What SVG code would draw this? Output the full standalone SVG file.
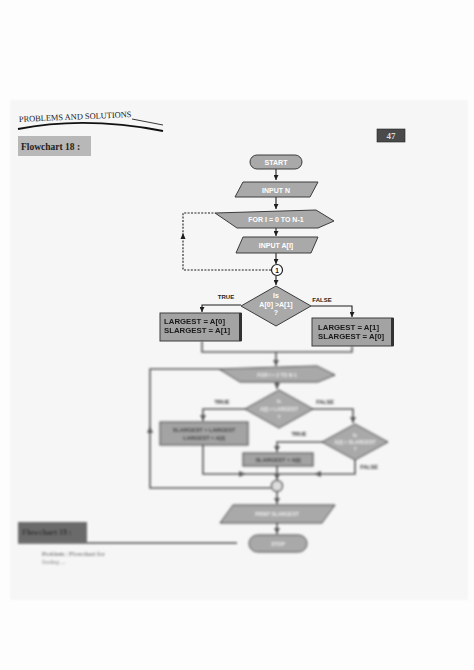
<svg xmlns="http://www.w3.org/2000/svg" width="474" height="670" viewBox="0 0 474 670">
<style>
.shape{fill:#a9a9a9;stroke:#3c3c3c;stroke-width:1}
.box{fill:#a3a3a3;stroke:#3c3c3c;stroke-width:1}
.wt{font-family:"Liberation Sans",Arial,sans-serif;font-weight:bold;font-size:7px;fill:#fff;text-anchor:middle}
.dk{font-family:"Liberation Sans",Arial,sans-serif;font-weight:bold;font-size:7.8px;fill:#1a1a1a}
.lbl{font-family:"Liberation Sans",Arial,sans-serif;font-weight:bold;font-size:6px;fill:#222;text-anchor:middle}
.sm{font-family:"Liberation Sans",Arial,sans-serif;font-weight:bold;font-size:5px;fill:#eee;text-anchor:middle}
.smd{font-family:"Liberation Sans",Arial,sans-serif;font-weight:bold;font-size:5.5px;fill:#333;text-anchor:middle}
.conn{stroke:#1e1e1e;stroke-width:1.1;fill:none}
.conn2{stroke:#5a5a5a;stroke-width:1.6;fill:none}
.dot{stroke-dasharray:2 1.4}
.serif{font-family:"Liberation Serif","Times New Roman",serif}
</style>
<defs>
<marker id="ah" viewBox="0 0 6 6" refX="6" refY="3" markerWidth="5" markerHeight="5" markerUnits="userSpaceOnUse" orient="auto"><path d="M0,0 L6,3 L0,6 z" fill="#1e1e1e"/></marker>
<marker id="ah2" viewBox="0 0 6 6" refX="6" refY="3" markerWidth="6" markerHeight="6" markerUnits="userSpaceOnUse" orient="auto"><path d="M0,0 L6,3 L0,6 z" fill="#5a5a5a"/></marker>
<filter id="blur" x="-10%" y="-10%" width="120%" height="120%"><feGaussianBlur stdDeviation="1.3"/></filter>
<filter id="blur2" x="-10%" y="-10%" width="120%" height="120%"><feGaussianBlur stdDeviation="0.6"/></filter>
</defs>

<rect x="0" y="0" width="474" height="670" fill="#fdfdfd"/>
<rect x="10" y="100" width="458" height="500" fill="#f6f6f6" filter="url(#blur)"/>

<!-- header -->
<g id="header">
<text class="serif" x="19" y="122" font-size="8.4" fill="#1a1a1a" transform="rotate(-2.5 19 122)">PROBLEMS AND SOLUTIONS</text>
<path d="M18,129 Q85,116 163,131" stroke="#111" stroke-width="1.8" fill="none"/>
<path d="M132,119 L163,125" stroke="#222" stroke-width="0.9" fill="none"/>
<rect x="18" y="136" width="73" height="20" fill="#b8b8b8"/>
<text class="serif" x="21" y="150" font-size="9.5" font-weight="bold" fill="#222">Flowchart 18 :</text>
<rect x="377" y="129" width="28" height="13" fill="#4a4a4a" stroke="#222" stroke-width="0.6"/>
<text class="serif" x="391" y="139" font-size="9" font-weight="bold" fill="#ddd" text-anchor="middle">47</text>
</g>

<!-- connectors -->
<g id="connectors">
<path class="conn" d="M276,169 V180" marker-end="url(#ah)"/>
<path class="conn" d="M276,197 V209" marker-end="url(#ah)"/>
<path class="conn" d="M276,228 V236" marker-end="url(#ah)"/>
<path class="conn" d="M276,253 V264" marker-end="url(#ah)"/>
<path class="conn dot" d="M271,270 H183 V213 H215"/>
<path d="M183,233 L180.5,239 L185.5,239 z" fill="#1e1e1e"/>
<path class="conn" d="M276,276 V285" marker-end="url(#ah)"/>
<path class="conn" d="M241,305 H202 V312" marker-end="url(#ah)"/>
<path class="conn" d="M311,306 H352 V317" marker-end="url(#ah)"/>
<text class="lbl" x="226" y="299">TRUE</text>
<text class="lbl" x="322" y="302">FALSE</text>
</g>

<!-- upper nodes -->
<g id="start"><rect class="shape" x="250" y="155" width="52" height="14" rx="7"/><text class="wt" x="276" y="164.5">START</text></g>
<g id="input_n"><polygon class="shape" points="243,182 318,182 310,197 235,197"/><text class="wt" x="276" y="192.5">INPUT N</text></g>
<g id="for1"><polygon class="shape" points="215,213 316,210 334,221 318,228 237,228"/><text class="wt" x="276" y="222">FOR I = 0 TO N-1</text></g>
<g id="input_a"><polygon class="shape" points="243,237 318,237 311,253 236,253"/><text class="wt" x="276" y="248">INPUT A[I]</text></g>
<g id="conn1"><circle cx="277" cy="270" r="5.5" fill="#fff" stroke="#1e1e1e" stroke-width="1.2"/><text x="277" y="272.5" font-family="Liberation Sans,Arial,sans-serif" font-size="6.5" font-weight="bold" text-anchor="middle" fill="#111">1</text></g>
<g id="dec1"><polygon class="shape" points="276,286 311,306 276,326 241,306"/>
<text class="wt" x="276" y="298">Is</text><text class="wt" x="276" y="306.5">A[0] &gt;A[1]</text><text class="wt" x="276" y="315">?</text></g>
<g id="box_true" filter="url(#blur2)"><rect class="box" x="160" y="313" width="81" height="28"/><rect x="239" y="313" width="3" height="28" fill="#333"/>
<text class="dk" x="164" y="324">LARGEST = A[0]</text><text class="dk" x="164" y="333">SLARGEST = A[1]</text></g>
<g id="box_false" filter="url(#blur2)"><rect class="box" x="312" y="318" width="81" height="28"/><rect x="391" y="318" width="3" height="28" fill="#333"/>
<text class="dk" x="318" y="330">LARGEST = A[1]</text><text class="dk" x="318" y="339">SLARGEST = A[0]</text></g>

<!-- lower, blurred part -->
<g id="lower" filter="url(#blur)">
<g id="connectors2">
<path class="conn2" d="M202,341 V352 H352 V346"/>
<path class="conn2" d="M276,352 V366" marker-end="url(#ah2)"/>
<path class="conn2" d="M219,369 H150 V488 H271"/>
<path d="M150,426 L147,433 L153,433 z" fill="#5a5a5a"/>
<path class="conn2" d="M277,382 V389" marker-end="url(#ah2)"/>
<path class="conn2" d="M245,409 H203 V421" marker-end="url(#ah2)"/>
<path class="conn2" d="M313,409 H353 V423" marker-end="url(#ah2)"/>
<path class="conn2" d="M322,442 H277 V452" marker-end="url(#ah2)"/>
<path class="conn2" d="M203,445 V474 H355 V460"/>
<path d="M246,474 L239,471 L239,477 z" fill="#5a5a5a"/>
<path d="M314,474 L321,471 L321,477 z" fill="#5a5a5a"/>
<path class="conn2" d="M277,466 V480" marker-end="url(#ah2)"/>
<path class="conn2" d="M277,492 V504" marker-end="url(#ah2)"/>
<path class="conn2" d="M277,523 V534" marker-end="url(#ah2)"/>
<text class="smd" x="222" y="404">TRUE</text>
<text class="smd" x="325" y="404">FALSE</text>
<text class="smd" x="299" y="436">TRUE</text>
<text class="smd" x="369" y="469">FALSE</text>
</g>
<g id="for2"><polygon class="shape" points="219,369 317,366 335,375 318,382 240,382"/><text class="sm" x="277" y="377">FOR I = 2 TO N-1</text></g>
<g id="dec2"><polygon class="shape" points="279,390 313,409 279,428 245,409"/><text class="sm" x="279" y="403">Is</text><text class="sm" x="279" y="411">A[I] &gt; LARGEST</text><text class="sm" x="279" y="419">?</text></g>
<g id="box_a"><rect class="box" x="160" y="422" width="88" height="23"/><text class="smd" x="204" y="431.5">SLARGEST = LARGEST</text><text class="smd" x="204" y="440">LARGEST = A[I]</text></g>
<g id="dec3"><polygon class="shape" points="355,424 388,442 355,460 322,442"/><text class="sm" x="355" y="437">Is</text><text class="sm" x="355" y="444">A[I] &gt; SLARGEST</text><text class="sm" x="355" y="451">?</text></g>
<g id="box_b"><rect class="box" x="243" y="453" width="70" height="13"/><text class="smd" x="278" y="461.5">SLARGEST = A[I]</text></g>
<g id="conn2"><circle cx="277" cy="486" r="5.5" fill="#ddd" stroke="#5a5a5a" stroke-width="1.4"/></g>
<g id="print"><polygon class="shape" points="233,505 335,505 322,523 220,523"/><text class="sm" x="277" y="516">PRINT SLARGEST</text></g>
<g id="stop"><rect class="shape" x="249" y="535" width="58" height="17" rx="8.5"/><text class="sm" x="278" y="546">STOP</text></g>
<g id="footer">
<rect x="18" y="522" width="69" height="20" fill="#6a6a6a"/>
<text class="serif" x="22" y="535" font-size="8" font-weight="bold" fill="#333">Flowchart 19 :</text>
<path d="M18,543 H237" stroke="#777" stroke-width="2"/>
<text class="serif" x="42" y="556" font-size="6.5" fill="#555">Problem : Flowchart for</text>
<text class="serif" x="42" y="564" font-size="6" fill="#888">finding ...</text>
</g>
</g>
</svg>
